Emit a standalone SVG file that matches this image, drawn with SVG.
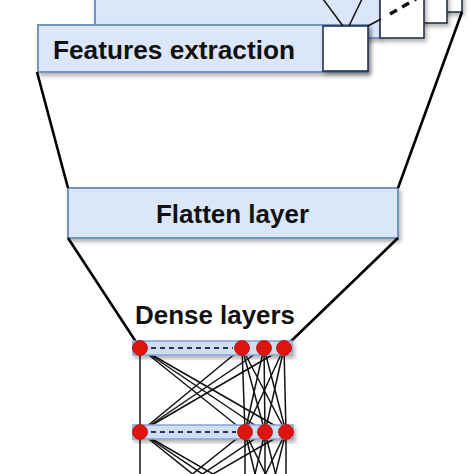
<svg xmlns="http://www.w3.org/2000/svg" width="474" height="474" viewBox="0 0 474 474">
<defs>
<filter id="sh" x="-10%" y="-10%" width="130%" height="140%">
<feDropShadow dx="2" dy="3" stdDeviation="2" flood-color="#000" flood-opacity="0.3"/>
</filter>
</defs>
<style>
.box{fill:#dbe7f8;stroke:#7393c5;stroke-width:2;filter:url(#sh)}
.sq{fill:#fff;stroke:#27324a;stroke-width:1.6;filter:url(#sh)}
.lbl{font-family:"Liberation Sans",Arial,sans-serif;font-weight:bold;font-size:25px;fill:#111}
.fun{stroke:#000;stroke-width:2.6;fill:none}
.e{stroke:#111;stroke-width:1.5;fill:none}
.band{fill:#cfdcf1;stroke:#86a3d2;stroke-width:1.5;filter:url(#sh)}
.dash{stroke:#2b3550;stroke-width:2;stroke-dasharray:5 4;fill:none}
.dot{fill:#e0140f;stroke:#b80d0a;stroke-width:0.8}
</style>
<rect width="474" height="474" fill="#fff"/>

<g id="feature-maps">
<rect class="box" x="95" y="-12" width="285" height="50"/>
<rect class="sq" x="417" y="-33" width="45" height="45"/>
<rect class="sq" x="402" y="-22" width="45" height="45"/>
<rect class="sq" x="380" y="-7" width="44" height="45"/>
<line x1="390" y1="14" x2="416" y2="-1" stroke="#111" stroke-width="3.4" stroke-dasharray="8 6"/>
</g>

<g id="features-extraction">
<rect class="box" x="38" y="25" width="330" height="47"/>
<text class="lbl" x="53" y="59" textLength="242" lengthAdjust="spacingAndGlyphs">Features extraction</text>
<rect class="sq" x="323" y="26" width="45" height="45"/>
</g>

<g id="flatten-layer">
<rect class="box" x="68" y="188" width="330" height="50"/>
<text class="lbl" x="156" y="222.5" textLength="153" lengthAdjust="spacingAndGlyphs">Flatten layer</text>
</g>

<g id="dense-layers-label">
<text class="lbl" x="135" y="324" textLength="160" lengthAdjust="spacingAndGlyphs">Dense layers</text>
</g>

<g id="connectors">
<line class="e" x1="343" y1="26" x2="323" y2="-1"/>
<line class="e" x1="349" y1="26" x2="362" y2="-1"/>
<line class="e" x1="368" y1="26" x2="381" y2="19" stroke-width="1.8"/>
<line class="fun" x1="37" y1="72" x2="68" y2="188"/>
<line class="fun" x1="462" y1="12" x2="398" y2="188"/>
<line class="fun" x1="68" y1="238" x2="140" y2="348"/>
<line class="fun" x1="398" y1="238" x2="285" y2="347"/>
<g id="edges-1-2">
<line class="e" x1="140" y1="348" x2="140" y2="432"/>
<line class="e" x1="140" y1="348" x2="245" y2="432"/>
<line class="e" x1="140" y1="348" x2="265" y2="432"/>
<line class="e" x1="140" y1="348" x2="286" y2="432"/>
<line class="e" x1="242" y1="348" x2="140" y2="432"/>
<line class="e" x1="242" y1="348" x2="245" y2="432"/>
<line class="e" x1="242" y1="348" x2="265" y2="432"/>
<line class="e" x1="242" y1="348" x2="286" y2="432"/>
<line class="e" x1="264" y1="348" x2="140" y2="432"/>
<line class="e" x1="264" y1="348" x2="245" y2="432"/>
<line class="e" x1="264" y1="348" x2="265" y2="432"/>
<line class="e" x1="264" y1="348" x2="286" y2="432"/>
<line class="e" x1="284" y1="348" x2="140" y2="432"/>
<line class="e" x1="284" y1="348" x2="245" y2="432"/>
<line class="e" x1="284" y1="348" x2="265" y2="432"/>
<line class="e" x1="284" y1="348" x2="286" y2="432"/>
</g>
<g id="edges-2-3">
<line class="e" x1="140" y1="432" x2="140" y2="516"/>
<line class="e" x1="140" y1="432" x2="245" y2="516"/>
<line class="e" x1="140" y1="432" x2="265" y2="516"/>
<line class="e" x1="140" y1="432" x2="286" y2="516"/>
<line class="e" x1="245" y1="432" x2="140" y2="516"/>
<line class="e" x1="245" y1="432" x2="245" y2="516"/>
<line class="e" x1="245" y1="432" x2="265" y2="516"/>
<line class="e" x1="245" y1="432" x2="286" y2="516"/>
<line class="e" x1="265" y1="432" x2="140" y2="516"/>
<line class="e" x1="265" y1="432" x2="245" y2="516"/>
<line class="e" x1="265" y1="432" x2="265" y2="516"/>
<line class="e" x1="265" y1="432" x2="286" y2="516"/>
<line class="e" x1="286" y1="432" x2="140" y2="516"/>
<line class="e" x1="286" y1="432" x2="245" y2="516"/>
<line class="e" x1="286" y1="432" x2="265" y2="516"/>
<line class="e" x1="286" y1="432" x2="286" y2="516"/>
</g>
</g>

<g id="dense-row-1">
<rect class="band" x="133" y="341" width="159" height="14"/>
<line class="dash" x1="151" y1="348" x2="233" y2="348"/>
<circle class="dot" cx="140" cy="348" r="7.5"/>
<circle class="dot" cx="242" cy="348" r="7.5"/>
<circle class="dot" cx="264" cy="348" r="7.5"/>
<circle class="dot" cx="284" cy="348" r="7.5"/>
</g>

<g id="dense-row-2">
<rect class="band" x="133" y="425" width="160" height="14"/>
<line class="dash" x1="151" y1="432" x2="236" y2="432"/>
<circle class="dot" cx="140" cy="432" r="7.5"/>
<circle class="dot" cx="245" cy="432" r="7.5"/>
<circle class="dot" cx="265" cy="432" r="7.5"/>
<circle class="dot" cx="286" cy="432" r="7.5"/>
</g>
</svg>
